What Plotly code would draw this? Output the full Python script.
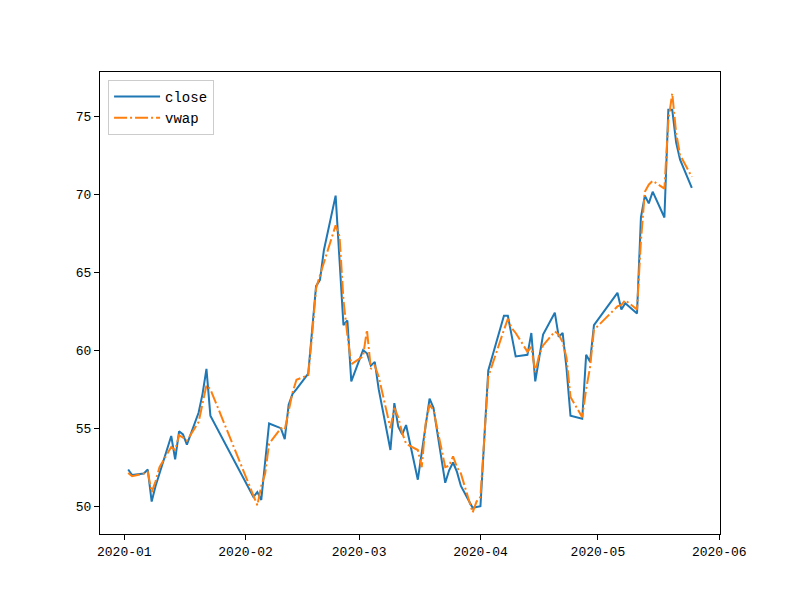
import plotly.graph_objects as go

dates = [
    "2020-01-02", "2020-01-03", "2020-01-06", "2020-01-07", "2020-01-08", "2020-01-09", "2020-01-10",
    "2020-01-13", "2020-01-14", "2020-01-15", "2020-01-16", "2020-01-17", "2020-01-20", "2020-01-21",
    "2020-01-22", "2020-01-23",
    "2020-02-03", "2020-02-04", "2020-02-05", "2020-02-06", "2020-02-07", "2020-02-10", "2020-02-11",
    "2020-02-12", "2020-02-13", "2020-02-14", "2020-02-17", "2020-02-18", "2020-02-19", "2020-02-20",
    "2020-02-21", "2020-02-24", "2020-02-25", "2020-02-26", "2020-02-27", "2020-02-28",
    "2020-03-02", "2020-03-03", "2020-03-04", "2020-03-05", "2020-03-06", "2020-03-09", "2020-03-10",
    "2020-03-11", "2020-03-12", "2020-03-13", "2020-03-16", "2020-03-17", "2020-03-18", "2020-03-19",
    "2020-03-20", "2020-03-23", "2020-03-24", "2020-03-25", "2020-03-26", "2020-03-27", "2020-03-30",
    "2020-03-31",
    "2020-04-01", "2020-04-02", "2020-04-03", "2020-04-07", "2020-04-08", "2020-04-09", "2020-04-10",
    "2020-04-13", "2020-04-14", "2020-04-15", "2020-04-16", "2020-04-17", "2020-04-20", "2020-04-21",
    "2020-04-22", "2020-04-23", "2020-04-24", "2020-04-27", "2020-04-28", "2020-04-29", "2020-04-30",
    "2020-05-06", "2020-05-07", "2020-05-08", "2020-05-11", "2020-05-12", "2020-05-13", "2020-05-14",
    "2020-05-15", "2020-05-18", "2020-05-19", "2020-05-20", "2020-05-21", "2020-05-22", "2020-05-25",
]

close = [
    52.35, 52.0, 52.1, 52.35, 50.3, 51.3, 52.1,
    54.5, 53.0, 54.8, 54.6, 53.95, 56.0, 57.2,
    58.8, 55.8,
    50.6, 50.9, 50.4, 52.8, 55.3, 55.0, 54.3,
    56.5, 57.2, 57.5, 58.5, 61.3, 64.1, 64.5,
    66.4, 69.9, 65.8, 61.6, 61.9, 58.0,
    60.0, 59.8, 59.0, 59.25, 57.5, 53.6, 56.6,
    55.1, 54.6, 55.2, 51.7, 53.5, 55.2, 56.9,
    56.3, 51.5, 52.3, 52.8, 52.2, 51.3, 49.9,
    49.95,
    50.0, 54.4, 58.7, 62.2, 62.2, 60.9, 59.6,
    59.7, 61.1, 58.0, 59.6, 61.0, 62.4, 60.85,
    61.1, 58.8, 55.8, 55.6, 59.7, 59.25, 61.6,
    63.67, 62.6, 63.0, 62.35, 68.5, 69.9, 69.4,
    70.15, 68.5, 75.4, 75.4, 73.3, 72.2, 70.4,
]

vwap = [
    52.13, 51.92, 52.1, 52.2, 50.9, 51.6, 52.5,
    53.8, 53.6, 54.55, 54.4, 54.2, 55.4, 56.5,
    57.75, 57.5,
    50.6, 50.06, 51.3, 52.1, 54.0, 55.0, 54.9,
    56.15, 57.3, 58.1, 58.4, 61.0, 63.95, 64.8,
    65.6, 68.0, 67.3, 63.2, 60.96, 59.1,
    59.6, 61.3, 58.8, 59.0, 58.3, 55.0, 56.3,
    55.7, 54.7, 54.0, 53.6, 52.5, 55.3, 56.5,
    56.15, 52.5, 52.6, 53.2, 52.5, 52.1, 49.6,
    50.3,
    50.6, 54.5, 58.3, 61.3, 62.0, 61.4, 61.1,
    59.9, 60.2, 58.6, 59.7, 60.3, 61.2, 61.0,
    60.5, 59.5, 57.0, 55.7, 57.5, 58.9, 61.3,
    62.8, 62.9, 63.2, 62.6, 67.0, 70.15, 70.6,
    70.85, 70.35, 74.7, 76.45, 73.9, 72.5, 71.1,
]

month_ticks = ["2020-01-01", "2020-02-01", "2020-03-01", "2020-04-01", "2020-05-01", "2020-06-01"]
month_labels = ["2020-01", "2020-02", "2020-03", "2020-04", "2020-05", "2020-06"]
y_ticks = [50, 55, 60, 65, 70, 75]

FONT = "Liberation Mono"

fig = go.Figure()
fig.add_trace(go.Scatter(x=dates, y=close, mode="lines", name="close",
                         line=dict(color="#1f77b4", width=2)))
fig.add_trace(go.Scatter(x=dates, y=vwap, mode="lines", name="vwap",
                         line=dict(color="#ff7f0e", width=2, dash="13px,3px,2px,3px")))

fig.update_layout(
    width=800, height=600,
    margin=dict(l=92, r=88, t=64, b=74),
    paper_bgcolor="white", plot_bgcolor="white",
    font=dict(family=FONT, size=13, color="black"),
    showlegend=True,
    legend=dict(x=0.013, y=0.983, xanchor="left", yanchor="top",
                bgcolor="rgba(255,255,255,0.8)", bordercolor="#cccccc", borderwidth=1,
                font=dict(family=FONT, size=14, color="black"),
                itemwidth=46, tracegroupgap=0),
)
fig.update_xaxes(
    range=["2019-12-25 19:12", "2020-06-01 04:48"],
    tickvals=month_ticks, ticktext=month_labels,
    showgrid=False, zeroline=False,
    showline=True, linecolor="black", linewidth=1, mirror=True,
    ticks="outside", ticklen=5, tickwidth=1, tickcolor="black",
    tickfont=dict(family=FONT, size=13, color="black"),
)
fig.update_yaxes(
    range=[48.22, 77.82],
    tickvals=y_ticks,
    showgrid=False, zeroline=False,
    showline=True, linecolor="black", linewidth=1, mirror=True,
    ticks="outside", ticklen=5, tickwidth=1, tickcolor="black",
    tickfont=dict(family=FONT, size=13, color="black"),
)

fig.write_html("out.html")
